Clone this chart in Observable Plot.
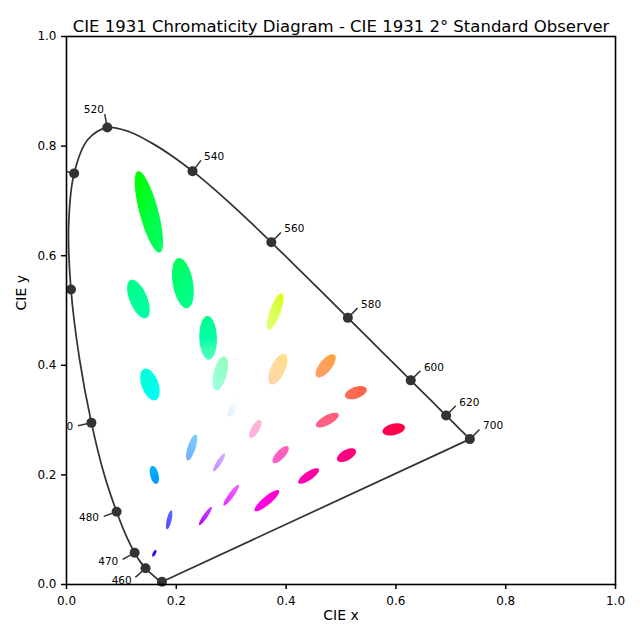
<!DOCTYPE html>
<html>
<head>
<meta charset="utf-8">
<script src="https://cdn.jsdelivr.net/npm/d3@7"></script>
<script src="https://cdn.jsdelivr.net/npm/@observablehq/plot@0.6"></script>
<style>
  html, body { margin: 0; padding: 0; background: #ffffff; }
  #chart { width: 640px; height: 640px; }
</style>
</head>
<body>
<div id="chart"></div>
<script>
// ---------- Data ----------
const chartTitle = "CIE 1931 Chromaticity Diagram - CIE 1931 2° Standard Observer";
const xLabel = "CIE x";
const yLabel = "CIE y";
const xTicks = [0, 0.2, 0.4, 0.6, 0.8, 1.0];
const yTicks = [0, 0.2, 0.4, 0.6, 0.8, 1.0];

// Spectral locus (CIE 1931 2°), 380–700 nm every 5 nm
const wavelengths = [380,385,390,395,400,405,410,415,420,425,430,435,440,445,450,455,460,465,470,475,480,485,490,495,500,505,510,515,520,525,530,535,540,545,550,555,560,565,570,575,580,585,590,595,600,605,610,615,620,625,630,635,640,645,650,655,660,665,670,675,680,685,690,695,700];
const locusX = [0.1741,0.1740,0.1738,0.1736,0.1733,0.1730,0.1726,0.1721,0.1714,0.1703,0.1689,0.1669,0.1644,0.1611,0.1566,0.1510,0.1440,0.1355,0.1241,0.1096,0.0913,0.0687,0.0454,0.0235,0.0082,0.0039,0.0139,0.0389,0.0743,0.1142,0.1547,0.1929,0.2296,0.2658,0.3016,0.3373,0.3731,0.4087,0.4441,0.4788,0.5125,0.5448,0.5752,0.6029,0.6270,0.6482,0.6658,0.6801,0.6915,0.7006,0.7079,0.7140,0.7190,0.7230,0.7260,0.7283,0.7300,0.7311,0.7320,0.7327,0.7334,0.7340,0.7344,0.7346,0.7347];
const locusY = [0.0050,0.0050,0.0049,0.0049,0.0048,0.0048,0.0048,0.0048,0.0051,0.0058,0.0069,0.0086,0.0109,0.0138,0.0177,0.0227,0.0297,0.0399,0.0578,0.0868,0.1327,0.2007,0.2950,0.4127,0.5384,0.6548,0.7502,0.8120,0.8338,0.8262,0.8059,0.7816,0.7543,0.7243,0.6923,0.6589,0.6245,0.5896,0.5547,0.5202,0.4866,0.4544,0.4242,0.3965,0.3725,0.3514,0.3340,0.3197,0.3083,0.2993,0.2920,0.2859,0.2809,0.2770,0.2740,0.2717,0.2700,0.2689,0.2680,0.2673,0.2666,0.2660,0.2656,0.2654,0.2653];

const markerWavelengths = [390,460,470,480,490,500,510,520,540,560,580,600,620,700];
const labelWavelengths  = [460,470,480,490,500,510,520,540,560,580,600,620,700];

// MacAdam (1942) ellipses as drawn: centre, semi-axes (CIE xy units), orientation (deg)
const ellipseX     = [0.160,0.187,0.253,0.150,0.131,0.212,0.258,0.152,0.280,0.380,0.160,0.228,0.305,0.385,0.472,0.527,0.475,0.510,0.596,0.344,0.390,0.441,0.278,0.300,0.365];
const ellipseY     = [0.057,0.118,0.125,0.680,0.521,0.550,0.450,0.365,0.385,0.498,0.200,0.250,0.323,0.393,0.399,0.350,0.300,0.236,0.283,0.284,0.237,0.198,0.223,0.163,0.153];
const ellipseA     = [0.0068,0.0176,0.0200,0.0768,0.0376,0.0464,0.0400,0.0304,0.0320,0.0352,0.0168,0.0248,0.0184,0.0304,0.0256,0.0208,0.0232,0.0192,0.0208,0.0184,0.0200,0.0224,0.0192,0.0232,0.0288];
const ellipseB     = [0.0028,0.0044,0.0040,0.0170,0.0160,0.0184,0.0160,0.0152,0.0120,0.0096,0.0076,0.0072,0.0072,0.0128,0.0112,0.0104,0.0088,0.0096,0.0104,0.0072,0.0080,0.0076,0.0044,0.0048,0.0076];
const ellipseTheta = [62.5,77,55.5,105,112.5,100,92,110,75.5,70,104,72,58,65.5,51,20,28.5,29.5,13,60,47,34.5,57.5,54,40];

// ---------- Styling helpers ----------
const DARK = "#333333";
const FONT = "DejaVu Sans, Liberation Sans, sans-serif";

// chromaticity -> display colour (normalised to max channel, sRGB)
function xyColour(x, y) {
  const X = x / y, Y = 1, Z = (1 - x - y) / y;
  let r = 3.2406 * X - 1.5372 * Y - 0.4986 * Z;
  let g = -0.9689 * X + 1.8758 * Y + 0.0415 * Z;
  let b = 0.0557 * X - 0.2040 * Y + 1.0570 * Z;
  const m = Math.max(r, g, b);
  const enc = v => {
    v = Math.max(0, Math.min(1, v / m));
    v = v <= 0.0031308 ? 12.92 * v : 1.055 * Math.pow(v, 1 / 2.4) - 0.055;
    return Math.round(v * 255);
  };
  return d3.rgb(enc(r), enc(g), enc(b)).formatHex();
}

// locus table
const locus = wavelengths.map((w, i) => ({w, x: locusX[i], y: locusY[i]}));
const purpleLine = [locus[locus.length - 1], locus[0]];

// markers
const markers = markerWavelengths.map(w => locus.find(d => d.w === w));

// label ticks & positions (outward normal to the locus)
const TICK = 0.025, LAB = 0.034;
const labels = labelWavelengths.map(w => {
  const i = wavelengths.indexOf(w);
  const n = wavelengths.length;
  let p = locus[Math.max(i - 1, 0)], q = locus[Math.min(i + 1, n - 1)];
  let tx = q.x - p.x, ty = q.y - p.y;
  if (Math.hypot(tx, ty) < 1e-3) {
    p = locus[Math.max(i - 4, 0)]; q = locus[i];
    tx = q.x - p.x; ty = q.y - p.y;
  }
  const len = Math.hypot(tx, ty);
  const nx = -ty / len, ny = tx / len;
  const c = locus[i];
  return {
    w, x: c.x, y: c.y,
    tx: c.x + nx * TICK, ty: c.y + ny * TICK,
    lx: c.x + nx * LAB, ly: c.y + ny * LAB,
    side: nx >= 0 ? "start" : "end"
  };
});

// ellipse outlines
const ellipses = ellipseX.map((cx, i) => {
  const cy = ellipseY[i], a = ellipseA[i], b = ellipseB[i];
  const th = ellipseTheta[i] * Math.PI / 180;
  const pts = d3.range(0, 96).map(k => {
    const t = (k / 96) * 2 * Math.PI;
    return {
      x: cx + a * Math.cos(t) * Math.cos(th) - b * Math.sin(t) * Math.sin(th),
      y: cy + a * Math.cos(t) * Math.sin(th) + b * Math.sin(t) * Math.cos(th)
    };
  });
  return {i, cx, cy, a, b, th, pts};
});

// gradient defs: colour varies along each ellipse's major axis
function gradientDefs() {
  const ns = "http://www.w3.org/2000/svg";
  const defs = document.createElementNS(ns, "defs");
  ellipses.forEach(e => {
    const hx = Math.hypot(e.a * Math.cos(e.th), e.b * Math.sin(e.th));
    const hy = Math.hypot(e.a * Math.sin(e.th), e.b * Math.cos(e.th));
    const ex = e.a * Math.cos(e.th), ey = e.a * Math.sin(e.th);
    const fx = x => (x - (e.cx - hx)) / (2 * hx);
    const fy = y => ((e.cy + hy) - y) / (2 * hy);
    const g = document.createElementNS(ns, "linearGradient");
    g.setAttribute("id", "macadam-" + e.i);
    g.setAttribute("gradientUnits", "objectBoundingBox");
    g.setAttribute("x1", fx(e.cx - ex)); g.setAttribute("y1", fy(e.cy - ey));
    g.setAttribute("x2", fx(e.cx + ex)); g.setAttribute("y2", fy(e.cy + ey));
    [-1, -0.5, 0, 0.5, 1].forEach(t => {
      const s = document.createElementNS(ns, "stop");
      s.setAttribute("offset", (t + 1) / 2);
      s.setAttribute("stop-color", xyColour(e.cx + t * ex, e.cy + t * ey));
      g.appendChild(s);
    });
    defs.appendChild(g);
  });
  return defs;
}

const chart = Plot.plot({
  width: 640,
  height: 640,
  marginLeft: 66,
  marginRight: 25,
  marginTop: 36,
  marginBottom: 56,
  style: {fontFamily: FONT, fontSize: "12px", background: "#ffffff", color: "#000"},
  x: {domain: [0, 1]},
  y: {domain: [0, 1]},
  marks: [
    gradientDefs,
    ...ellipses.map(e => Plot.line(e.pts, {x: "x", y: "y", fill: `url(#macadam-${e.i})`, stroke: "none"})),
    Plot.line(locus, {x: "x", y: "y", stroke: DARK, strokeWidth: 1.75, curve: "catmull-rom", clip: true}),
    Plot.line(purpleLine, {x: "x", y: "y", stroke: DARK, strokeWidth: 1.75, clip: true}),
    Plot.link(labels, {x1: "x", y1: "y", x2: "tx", y2: "ty", stroke: DARK, strokeWidth: 1.5, clip: true}),
    Plot.dot(markers, {x: "x", y: "y", r: 5, fill: DARK, stroke: "none"}),
    Plot.text(labels.filter(d => d.side === "start"), {x: "lx", y: "ly", text: d => String(d.w), textAnchor: "start", fontSize: 10.5, fill: "#000", clip: true}),
    Plot.text(labels.filter(d => d.side === "end"), {x: "lx", y: "ly", text: d => String(d.w), textAnchor: "end", fontSize: 10.5, fill: "#000", clip: true}),
    Plot.frame({stroke: "#000", strokeWidth: 1.6}),
    Plot.axisX({ticks: xTicks, tickFormat: d3.format(".1f"), tickSize: 5, tickPadding: 7, strokeWidth: 1.5, fontSize: 12, label: null}),
    Plot.axisY({ticks: yTicks, tickFormat: d3.format(".1f"), tickSize: 5, tickPadding: 5, strokeWidth: 1.5, fontSize: 12, label: null}),
    Plot.text([xLabel], {text: d => d, frameAnchor: "bottom", dy: 35, fontSize: 14, fill: "#000"}),
    Plot.text([yLabel], {text: d => d, frameAnchor: "left", dx: -45, rotate: -90, fontSize: 14, fill: "#000"}),
    Plot.text([chartTitle], {text: d => d, frameAnchor: "top", dy: -16, fontSize: 16.5, fill: "#000"})
  ]
});
document.getElementById("chart").appendChild(chart);
</script>
</body>
</html>
